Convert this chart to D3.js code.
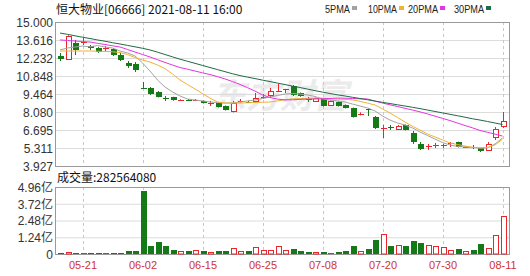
<!DOCTYPE html>
<html>
<head>
<meta charset="utf-8">
<script src="https://d3js.org/d3.v7.min.js"></script>
<style>
body{margin:0;background:#fff;}
svg text{font-family:"Liberation Sans",Arial,sans-serif;}
</style>
</head>
<body>
<div id="chart"></div>
<script>
var title = "恒大物业[06666] 2021-08-11 16:00";
var volumeTitle = "成交量:";

var dates = ["05-17","05-18","05-20","05-21","05-24","05-25","05-26","05-27","05-28","05-31",
  "06-01","06-02","06-03","06-04","06-07","06-08","06-09","06-10","06-11","06-15",
  "06-16","06-17","06-18","06-21","06-22","06-23","06-24","06-25","06-28","06-29",
  "06-30","07-02","07-05","07-06","07-07","07-08","07-09","07-12","07-13","07-14",
  "07-15","07-16","07-19","07-20","07-21","07-22","07-23","07-26","07-27","07-28",
  "07-29","07-30","08-02","08-03","08-04","08-05","08-06","08-09","08-10","08-11"];

var opens = [12.39,12.16,13.39,13.44,13.15,13.00,12.98,12.92,12.46,11.85,11.77,9.95,9.93,9.62,9.17,9.20,8.97,9.02,8.98,8.93,
  8.76,8.77,8.54,8.15,8.90,8.87,8.93,9.22,9.39,9.69,9.84,10.08,9.54,9.09,8.93,9.08,8.62,8.85,8.62,8.39,
  7.90,8.28,7.69,6.84,6.94,6.77,7.08,6.46,5.62,5.39,5.53,5.53,5.67,5.77,5.38,5.40,5.31,5.16,6.16,7.00];
var highs = [12.62,13.98,13.62,13.77,13.23,13.08,13.15,13.00,12.62,12.00,11.92,10.39,10.00,9.69,9.31,9.25,9.05,9.08,9.08,8.97,
  8.93,8.80,8.58,8.93,9.08,8.95,9.54,9.46,9.93,10.23,9.86,10.15,9.58,9.23,9.20,9.12,8.97,8.90,8.66,8.42,
  8.05,8.39,7.77,7.08,7.08,7.08,7.12,6.62,5.77,5.62,5.70,5.62,5.77,5.80,5.46,5.54,5.31,5.77,6.92,8.08];
var lows = [12.00,12.10,12.46,13.23,12.85,12.62,12.69,12.39,12.00,11.46,11.16,9.93,9.39,9.20,8.93,8.95,8.93,8.93,8.93,8.73,
  8.54,8.42,8.20,8.05,8.80,8.77,8.77,9.08,9.23,9.69,9.54,9.31,9.25,8.85,8.90,8.50,8.58,8.50,8.35,7.66,
  7.82,7.77,6.77,6.08,6.70,6.70,6.66,5.62,5.16,5.16,5.31,5.31,5.39,5.35,5.31,5.23,5.00,5.08,5.93,6.85];
var closes = [12.16,13.92,12.85,13.48,13.00,12.69,13.02,12.46,12.08,11.62,11.31,9.93,9.46,9.23,9.15,9.00,9.02,9.00,9.00,8.77,
  8.79,8.46,8.23,8.80,8.92,8.85,9.15,9.24,9.70,9.71,9.86,9.39,9.30,9.07,9.15,8.54,8.93,8.54,8.39,7.69,
  7.93,8.24,6.85,6.87,6.92,7.00,6.70,5.77,5.23,5.46,5.55,5.56,5.70,5.39,5.40,5.38,5.08,5.62,6.77,7.39];
var volumes = [7000000,15000000,7000000,10000000,8000000,8000000,8000000,8000000,8000000,20000000,
  20000000,469000000,57000000,89000000,57000000,32000000,25000000,25000000,32000000,25000000,
  15000000,20000000,25000000,44000000,25000000,20000000,54000000,27000000,32000000,62000000,
  32000000,40000000,25000000,15000000,15000000,15000000,10000000,15000000,20000000,57000000,
  25000000,40000000,106000000,150000000,57000000,69000000,57000000,99000000,84000000,69000000,
  57000000,54000000,32000000,40000000,25000000,32000000,77000000,44000000,143000000,282564080];

var ma5 = [12.85,13.00,13.08,13.15,13.09,13.19,13.08,13.00,12.77,12.62,12.39,11.85,11.23,10.54,10.00,9.62,9.31,9.08,9.00,8.93,
  8.85,8.81,8.77,8.77,8.85,8.93,9.00,9.12,9.23,9.35,9.46,9.50,9.46,9.39,9.27,9.08,9.00,8.93,8.85,8.69,
  8.54,8.39,8.16,7.77,7.46,7.23,7.08,6.85,6.54,6.27,6.00,5.73,5.54,5.43,5.39,5.35,5.31,5.31,5.62,6.08];
var ma10 = [12.77,12.77,12.77,12.77,12.77,12.75,12.74,12.71,12.65,12.50,12.27,12.08,11.92,11.69,11.42,11.00,10.54,10.19,9.85,9.50,
  9.15,8.85,8.77,8.77,8.77,8.79,8.81,8.83,8.85,8.93,9.02,9.09,9.11,9.12,9.15,9.15,9.11,9.08,9.05,9.01,
  8.90,8.76,8.62,8.32,8.00,7.66,7.31,6.98,6.69,6.39,6.16,5.93,5.69,5.58,5.46,5.37,5.32,5.35,5.54,6.00];
var ma20 = [13.62,13.58,13.54,13.50,13.46,13.36,13.27,13.17,13.08,12.89,12.69,12.50,12.31,12.10,11.89,11.69,11.50,11.37,11.23,11.09,
  10.96,10.80,10.62,10.42,10.20,9.95,9.69,9.39,9.19,9.07,9.01,9.02,9.05,9.07,9.08,9.10,9.12,9.15,9.14,9.12,
  9.09,9.08,8.92,8.77,8.63,8.50,8.36,8.23,8.09,7.93,7.76,7.59,7.42,7.23,7.04,6.86,6.66,6.52,6.38,6.23];
var ma30 = [14.15,14.05,13.94,13.83,13.73,13.62,13.52,13.41,13.31,13.20,13.09,12.98,12.85,12.68,12.50,12.32,12.14,11.98,11.82,11.66,
  11.50,11.34,11.18,11.02,10.88,10.76,10.65,10.53,10.42,10.30,10.19,10.07,9.96,9.84,9.72,9.61,9.50,9.40,9.31,9.21,
  9.12,9.02,8.92,8.82,8.73,8.63,8.54,8.44,8.34,8.23,8.12,8.01,7.90,7.79,7.68,7.56,7.46,7.35,7.23,7.12];

var maNames = ["5PMA", "10PMA", "20PMA", "30PMA"];
var priceTicks = [15.000, 13.616, 12.232, 10.848, 9.464, 8.080, 6.695, 5.311, 3.927];
var volumeTicks = [0, 124000000, 248000000, 372000000, 496000000];
var dateTicks = ["05-21", "06-02", "06-15", "06-25", "07-08", "07-20", "07-30", "08-11"];

// layout
var width = 530, height = 276;
var left = 55, right = 509;
var priceTop = 22, priceBottom = 166;
var volTop = 187, volBottom = 254;
var red = "#e8262b", green = "#137a17";
var maColors = ["#a3a3a3", "#f2b234", "#e535e0", "#1f6b45"];
var legendX = [325, 368, 408, 454];
var legendW = [25, 29, 30, 30];

var svg = d3.select('#chart').append('svg').attr('width', width).attr('height', height);
svg.append('rect').attr('width', width).attr('height', height).attr('fill', '#fff');

var x = d3.scalePoint().domain(dates).range([60, 502.5]);
var y = d3.scaleLinear().domain([priceTicks[priceTicks.length - 1], priceTicks[0]]).range([priceBottom, priceTop]);
var vy = d3.scaleLinear().domain([0, volumeTicks[volumeTicks.length - 1]]).range([volBottom, volTop]);

function px(d){
  return Math.round(x(d));
}

// watermark
svg.append('text').attr('x', 212).attr('y', 108)
  .style('font-family', '"Noto Sans CJK SC"').style('font-size', '34px').style('font-weight', 'bold')
  .style('font-style', 'italic').attr('fill', '#ebebeb').text('东方财富');

// horizontal grid + labels
var priceAxis = svg.append('g').attr('transform', 'translate(' + left + ',0)')
  .call(d3.axisLeft(y).tickValues(priceTicks).tickSize(-(right - left)).tickPadding(2).tickFormat(d3.format('.3f')));
priceAxis.select('.domain').remove();
priceAxis.selectAll('line').attr('stroke', '#dcdcdc');
priceAxis.selectAll('text').attr('fill', '#333').style('font-size', '12px').attr('dy', '0.36em');

var volAxis = svg.append('g').attr('transform', 'translate(' + left + ',0)')
  .call(d3.axisLeft(vy).tickValues(volumeTicks).tickSize(-(right - left)).tickPadding(2)
    .tickFormat(function(d){ return d == 0 ? "0" : (d / 1e8).toFixed(2) + "亿"; }));
volAxis.select('.domain').remove();
volAxis.selectAll('line').attr('stroke', '#dcdcdc');
volAxis.selectAll('text').attr('fill', '#333').style('font-size', '12px').attr('dy', '0.36em')
  .style('font-family', '"Liberation Sans","Noto Sans CJK SC",sans-serif');

// vertical dashed grid
[[priceTop, priceBottom], [volTop, volBottom]].forEach(function(r){
  svg.append('g').selectAll('line').data(dateTicks).enter().append('line')
    .attr('x1', function(d){ return px(d) + 0.5; }).attr('x2', function(d){ return px(d) + 0.5; })
    .attr('y1', r[0]).attr('y2', r[1])
    .attr('stroke', '#c8c8c8').attr('stroke-dasharray', '3,3');
});

// date labels
var dateAxis = svg.append('g').attr('transform', 'translate(0,' + volBottom + ')')
  .call(d3.axisBottom(x).tickValues(dateTicks).tickSize(0).tickPadding(7));
dateAxis.select('.domain').remove();
dateAxis.selectAll('text').attr('fill', '#d03232').style('font-size', '11px');

// panel borders
svg.append('rect').attr('x', left + 0.5).attr('y', priceTop + 0.5).attr('width', right - left).attr('height', priceBottom - priceTop)
  .attr('fill', 'none').attr('stroke', '#999');
svg.append('rect').attr('x', left + 0.5).attr('y', volTop + 0.5).attr('width', right - left).attr('height', volBottom - volTop)
  .attr('fill', 'none').attr('stroke', '#999');

// candles
var candles = svg.append('g').selectAll('g').data(dates).enter().append('g');
candles.append('line')
  .attr('x1', function(d){ return px(d) + 0.5; }).attr('x2', function(d){ return px(d) + 0.5; })
  .attr('y1', function(d, i){ return y(highs[i]); }).attr('y2', function(d, i){ return y(lows[i]); })
  .attr('stroke', function(d, i){ return closes[i] >= opens[i] ? red : green; });
candles.append('rect')
  .each(function(d, i){
    var up = closes[i] >= opens[i];
    var top = Math.round(y(Math.max(opens[i], closes[i])));
    var h = Math.round(y(Math.min(opens[i], closes[i]))) - top;
    var sel = d3.select(this);
    if(up && h >= 2){
      sel.attr('x', px(d) - 2 + 0.5).attr('y', top + 0.5).attr('width', 5).attr('height', h)
        .attr('fill', '#fff').attr('stroke', red);
    }else{
      sel.attr('x', px(d) - 2).attr('y', top).attr('width', 6).attr('height', Math.max(1, h))
        .attr('fill', up ? red : green);
    }
  });

// moving averages
svg.append('clipPath').attr('id', 'priceClip').append('rect')
  .attr('x', left + 1).attr('y', priceTop + 1).attr('width', right - left - 1).attr('height', priceBottom - priceTop - 1);
var line = d3.line().x(function(d, i){ return x(dates[i]); }).y(function(d){ return y(d); });
svg.append('g').attr('clip-path', 'url(#priceClip)').selectAll('path').data([ma5, ma10, ma20, ma30]).enter().append('path')
  .attr('d', line).attr('fill', 'none').attr('stroke-width', 1)
  .attr('stroke', function(d, i){ return maColors[i]; });

// volume bars
svg.append('g').selectAll('rect').data(dates).enter().append('rect')
  .each(function(d, i){
    var up = closes[i] >= opens[i];
    var top = Math.round(vy(volumes[i]));
    var h = Math.max(1, volBottom - top);
    var sel = d3.select(this);
    if(up && h >= 2){
      sel.attr('x', px(d) - 2 + 0.5).attr('y', volBottom - h + 0.5).attr('width', 5).attr('height', h - 0.5)
        .attr('fill', '#fff').attr('stroke', red);
    }else{
      sel.attr('x', px(d) - 2).attr('y', volBottom - h).attr('width', 6).attr('height', h)
        .attr('fill', up ? red : green);
    }
  });

// titles
svg.append('text').attr('x', 56).attr('y', 14).style('font-family', '"Noto Sans CJK SC"').style('font-size', '12px')
  .attr('fill', '#111').text(title);
svg.append('text').attr('x', 57).attr('y', 182).style('font-family', '"Noto Sans CJK SC"').style('font-size', '12px')
  .attr('fill', '#111').text(volumeTitle + volumes[volumes.length - 1]);

// legend
var legend = svg.append('g').selectAll('g').data(maNames).enter().append('g');
legend.append('text').attr('x', function(d, i){ return legendX[i]; }).attr('y', 13)
  .attr('textLength', function(d, i){ return legendW[i]; }).attr('lengthAdjust', 'spacingAndGlyphs')
  .style('font-size', '10px').attr('fill', '#222').text(function(d){ return d; });
legend.append('rect').attr('x', function(d, i){ return legendX[i] + legendW[i] + 2; }).attr('y', 6)
  .attr('width', 5).attr('height', 4).attr('fill', function(d, i){ return maColors[i]; });
</script>
</body>
</html>
